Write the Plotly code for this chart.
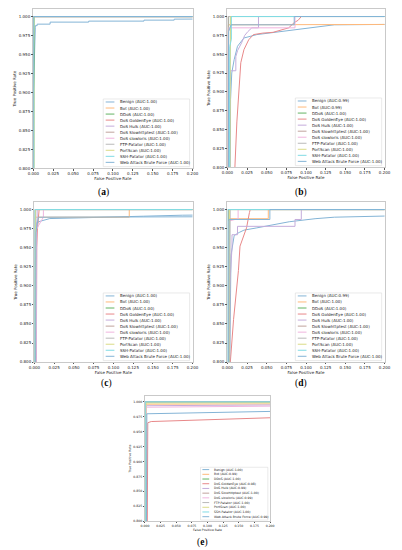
import plotly.graph_objects as go

# ---- data
classes = ["Benign", "Bot", "DDoS", "DoS GoldenEye", "DoS Hulk", "DoS Slowhttptest",
           "DoS slowloris", "FTP-Patator", "PortScan", "SSH-Patator", "Web Attack Brute Force"]

auc_a = ["1.00", "1.00", "1.00", "1.00", "1.00", "1.00", "1.00", "1.00", "1.00", "1.00", "1.00"]
auc_b = ["0.99", "0.99", "1.00", "1.00", "1.00", "1.00", "1.00", "1.00", "1.00", "1.00", "1.00"]
auc_c = ["1.00", "1.00", "1.00", "1.00", "1.00", "1.00", "1.00", "1.00", "1.00", "1.00", "1.00"]
auc_d = ["0.99", "1.00", "1.00", "1.00", "1.00", "1.00", "1.00", "1.00", "1.00", "1.00", "1.00"]
auc_e = ["1.00", "0.99", "1.00", "0.98", "0.99", "1.00", "0.99", "1.00", "1.00", "1.00", "0.99"]

# (a)
fpr_a = [
    [0, 0, 0.0024, 0.0024, 0.0047, 0.0047, 0.021, 0.021, 0.0695, 0.0695, 0.139, 0.139, 0.177, 0.177, 1],
    [0, 0, 1], [0, 0, 0.0008, 0.0008, 1], [0, 0, 1], [0, 0, 1], [0, 0, 1],
    [0, 0, 1], [0, 0, 1], [0, 0, 1], [0, 0, 1],
    [0, 0, 1],
]
tpr_a = [
    [0, 0.9, 0.986, 0.988, 0.988, 0.990, 0.990, 0.9927, 0.9927, 0.994, 0.994, 0.9953, 0.9953, 0.9966, 1],
    [0, 1, 1], [0, 0.9, 0.9, 1, 1], [0, 1, 1], [0, 1, 1], [0, 1, 1],
    [0, 1, 1], [0, 1, 1], [0, 1, 1], [0, 1, 1],
    [0, 1, 1],
]

# (b)
fpr_b = [
    [0, 0.003, 0.004, 0.0055, 0.0086, 0.0128, 0.021, 0.0374, 0.062, 0.087, 0.1115, 0.136, 0.2, 1],
    [0, 0.001, 0.2, 1],
    [0, 0.0015, 0.0015, 1],
    [0, 0.0095, 0.012, 0.014, 0.017, 0.021, 0.027, 0.033, 0.045, 0.058, 0.068, 0.078, 0.085, 0.09, 0.094, 1],
    [0, 0.002, 0.0037, 0.0107, 0.0107, 0.013, 0.018, 0.022, 0.026, 0.031, 0.0395, 0.0395, 1],
    [0, 0.001, 1],
    [0, 0.001, 0.001, 0.086, 0.086, 1],
    [0, 0.0008, 1],
    [0, 0.004, 0.004, 1],
    [0, 0.003, 0.005, 0.005, 1],
    [0, 0.0015, 0.0046, 0.085, 0.085, 1],
]
tpr_b = [
    [0, 0.8, 0.89, 0.925, 0.943, 0.9605, 0.9715, 0.976, 0.979, 0.9825, 0.986, 0.989, 0.9895, 1],
    [0, 0.989, 0.9895, 1],
    [0, 0.97, 1, 1],
    [0, 0.8, 0.86, 0.897, 0.9386, 0.956, 0.969, 0.976, 0.978, 0.979, 0.9825, 0.985, 0.992, 0.995, 1, 1],
    [0, 0.8, 0.928, 0.928, 0.947, 0.955, 0.965, 0.975, 0.98, 0.985, 0.985, 1, 1],
    [0, 1, 1],
    [0, 0.97, 0.985, 0.985, 1, 1],
    [0, 1, 1],
    [0, 0.99, 1, 1],
    [0, 0.96, 0.97, 1, 1],
    [0, 0.98, 0.989, 0.989, 1, 1],
]

# (c)
fpr_c = [
    [0, 0.0015, 0.0025, 0.0074, 0.0196, 0.0564, 0.081, 0.138, 0.187, 0.2, 1],
    [0, 0.001, 0.12, 0.12, 1],
    [0, 0.0013, 0.0013, 1],
    [0, 0.002, 0.003, 0.004, 0.005, 0.006, 1],
    [0, 0.002, 0.0035, 0.0035, 1],
    [0, 0.001, 1],
    [0, 0.003, 0.0114, 0.0114, 1],
    [0, 0.0008, 1],
    [0, 0.0015, 1],
    [0, 0.0005, 1],
    [0, 0.002, 0.005, 0.2, 1],
]
tpr_c = [
    [0, 0.8, 0.9826, 0.9847, 0.9882, 0.9891, 0.990, 0.9913, 0.9926, 0.993, 1],
    [0, 0.99, 0.99, 1, 1],
    [0, 0.96, 1, 1],
    [0, 0.8, 0.95, 0.975, 0.99, 1, 1],
    [0, 0.97, 0.99, 1, 1],
    [0, 1, 1],
    [0, 0.975, 0.99, 1, 1],
    [0, 1, 1],
    [0, 1, 1],
    [0, 1, 1],
    [0, 0.97, 0.99, 0.9905, 1],
]

# (d)
fpr_d = [
    [0, 0.003, 0.0045, 0.0066, 0.0086, 0.015, 0.021, 0.0374, 0.058, 0.0786, 0.1115, 0.136, 0.2, 1],
    [0, 0.002, 0.052, 0.052, 1],
    [0, 0.0015, 0.0015, 1],
    [0, 0.0037, 0.0078, 0.012, 0.014, 0.016, 0.020, 0.0243, 0.028, 0.029, 1],
    [0, 0.003, 0.0058, 0.0058, 0.0128, 0.0128, 0.086, 0.086, 0.094, 0.094, 1],
    [0, 0.001, 1],
    [0, 0.002, 0.0136, 0.0136, 1],
    [0, 0.0035, 0.0035, 1],
    [0, 0.0025, 0.0025, 1],
    [0, 0.0005, 1],
    [0, 0.002, 0.054, 0.054, 1],
]
tpr_d = [
    [0, 0.8, 0.94, 0.955, 0.966, 0.97, 0.973, 0.976, 0.980, 0.984, 0.988, 0.99, 0.9915, 1],
    [0, 0.988, 0.988, 1, 1],
    [0, 0.98, 1, 1],
    [0, 0.8, 0.856, 0.9, 0.92, 0.952, 0.963, 0.976, 0.996, 1, 1],
    [0, 0.9, 0.95, 0.967, 0.967, 0.978, 0.978, 0.987, 0.987, 1, 1],
    [0, 1, 1],
    [0, 0.985, 0.988, 1, 1],
    [0, 0.988, 1, 1],
    [0, 0.995, 1, 1],
    [0, 1, 1],
    [0, 0.987, 0.987, 1, 1],
]

# (e)
fpr_e = [
    [0, 0.0005, 1],
    [0, 0.001, 0.2, 1],
    [0, 0.001, 0.001, 1],
    [0, 0.0035, 0.0045, 0.01, 1],
    [0, 0.002, 1],
    [0, 0.0008, 1],
    [0, 0.0025, 1],
    [0, 0.0008, 1],
    [0, 0.0015, 1],
    [0, 0.0005, 1],
    [0, 0.003, 1],
]
tpr_e = [
    [0, 1, 1],
    [0, 0.996, 0.9965, 1],
    [0, 0.997, 1, 1],
    [0, 0.8, 0.965, 0.967, 1],
    [0, 0.9935, 1],
    [0, 1, 1],
    [0, 0.991, 1],
    [0, 1, 1],
    [0, 0.998, 1],
    [0, 1, 1],
    [0, 0.98, 1],
]

x_ticks = [0, 0.025, 0.05, 0.075, 0.1, 0.125, 0.15, 0.175, 0.2]
y_ticks = [0.8, 0.825, 0.85, 0.875, 0.9, 0.925, 0.95, 0.975, 1.0]

# tab10, washed out like the downscaled original
colors = ["rgb(132,180,214)", "rgb(255,185,123)", "rgb(99,180,99)",
          "rgb(232,136,137)", "rgb(196,172,219)", "rgb(192,162,156)",
          "rgb(240,180,222)", "rgb(185,185,185)", "rgb(218,219,134)",
          "rgb(128,219,229)", "rgb(132,180,214)"]

# ---- page geometry (pixels of the 402x550 page; the html body adds 8px)
W, H = 402, 550
OFF = 8
panels = [
    # label, fpr, tpr, auc, frame (left, right, top, bottom), label centre, font scale
    ("a", fpr_a, tpr_a, auc_a, (28, 192, 7, 168), (100, 193), 1.0),
    ("b", fpr_b, tpr_b, auc_b, (228, 390, 8, 167), (304, 193), 1.0),
    ("c", fpr_c, tpr_c, auc_c, (29, 192, 202, 363), (103, 385), 1.0),
    ("d", fpr_d, tpr_d, auc_d, (228, 390, 202, 363), (304, 385), 1.0),
    ("e", fpr_e, tpr_e, auc_e, (143, 272, 397, 523), (202, 544), 0.78),
]

def px(x):
    return (x - OFF) / W

def py(y):
    return 1 - (y - OFF) / H

def clip(v):
    return min(1.0, max(0.0, v))

fig = go.Figure()
shapes = []
annotations = []
layout = dict()

for k, (lab, fpr, tpr, auc, box, lab_pos, s) in enumerate(panels):
    suf = "" if k == 0 else str(k + 1)
    for j in range(len(classes)):
        fig.add_trace(go.Scatter(
            x=fpr[j], y=tpr[j], mode="lines",
            line=dict(color=colors[j], width=1),
            xaxis="x" + suf, yaxis="y" + suf,
            showlegend=False, hoverinfo="skip",
        ))
    l, r, t, b = box
    fs = 4 * s
    axis_common = dict(
        showgrid=False, zeroline=False, showline=True, mirror=True,
        linecolor="#c9c9c9", linewidth=0.8,
        ticks="outside", ticklen=1.5 * s, tickwidth=0.5, tickcolor="#555555",
        tickfont=dict(family="DejaVu Sans", size=fs, color="#222222"),
    )
    layout["xaxis" + suf] = dict(
        axis_common, domain=[clip(px(l)), clip(px(r))], range=[0, 0.2], anchor="y" + suf,
        tickvals=x_ticks, ticktext=["%.3f" % v for v in x_ticks],
        title=dict(text="False Positive Rate", standoff=1,
                   font=dict(family="DejaVu Sans", size=fs, color="#222222")),
    )
    layout["yaxis" + suf] = dict(
        axis_common, domain=[clip(py(b)), clip(py(t))], range=[0.8, 1.01], anchor="x" + suf,
        tickvals=y_ticks, ticktext=["%.3f" % v for v in y_ticks],
        title=dict(text="True Positive Rate", standoff=2,
                   font=dict(family="DejaVu Sans", size=fs, color="#222222")),
    )

    # ---- legend box, lower right of the panel
    bw, bh = 89 * s, 68 * s
    bx1, by1 = r - 3 * s, b - 1.5 * s
    bx0, by0 = bx1 - bw, by1 - bh
    shapes.append(dict(type="rect", xref="paper", yref="paper",
                       x0=px(bx0), x1=px(bx1), y0=py(by1), y1=py(by0),
                       line=dict(color="#dcdcdc", width=0.6),
                       fillcolor="rgba(255,255,255,0.85)", layer="above"))
    pitch = 6.07 * s
    for j, name in enumerate(classes):
        yc = by0 + 3 * s + pitch * j
        shapes.append(dict(type="line", xref="paper", yref="paper",
                           x0=px(bx0 + 2.5 * s), x1=px(bx0 + 11.5 * s), y0=py(yc), y1=py(yc),
                           line=dict(color=colors[j], width=1), layer="above"))
        annotations.append(dict(
            text="%s (AUC:%s)" % (name, auc[j]), xref="paper", yref="paper",
            x=px(bx0 + 15 * s), y=py(yc), xanchor="left", yanchor="middle",
            showarrow=False, font=dict(family="DejaVu Sans", size=fs, color="#222222"),
        ))

    annotations.append(dict(
        text="(<b>%s</b>)" % lab, xref="paper", yref="paper",
        x=px(lab_pos[0]), y=py(lab_pos[1]), xanchor="center", yanchor="middle",
        showarrow=False, font=dict(family="Liberation Serif", size=9.5, color="#000000"),
    ))

fig.update_layout(
    width=W, height=H,
    margin=dict(l=0, r=0, t=0, b=0),
    paper_bgcolor="white", plot_bgcolor="white",
    shapes=shapes, annotations=annotations,
    **layout,
)

fig.write_html("out.html")
